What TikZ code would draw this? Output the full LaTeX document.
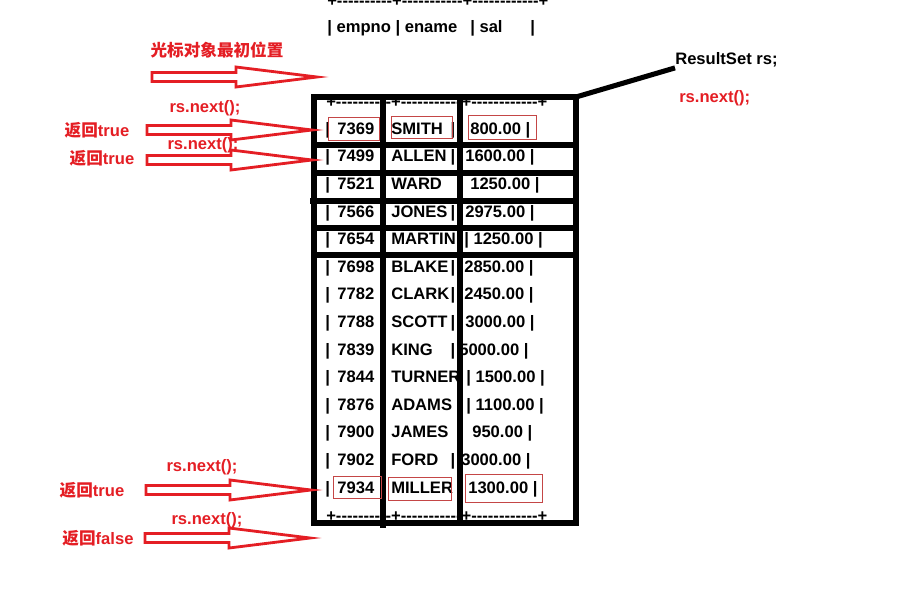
\documentclass[tikz,border=0pt]{standalone}
\usepackage{fontspec}
\setmainfont{Liberation Sans}
\newfontfamily\cjk{Noto Sans CJK SC}
\usetikzlibrary{calc}
\definecolor{markred}{RGB}{228,30,36}
\definecolor{boxred}{RGB}{196,70,70}
\newcommand{\tabfont}{\fontsize{11.8}{14}\selectfont\bfseries}
\newcommand{\dashrun}[1]{\foreach \k in {1,...,#1}{-}}
\newcommand{\hollowarrow}[1]{%
  \draw[hollow] (#1) ++(0,-4.5) -- ++(84,0) -- ++(0,-5.5) -- ++(81,10)
    -- ++(-81,10) -- ++(0,-5.5) -- ++(-84,0) -- cycle;}

\begin{document}
\begin{tikzpicture}[
    x=0.025cm, y=-0.025cm,
    cell/.style={anchor=west,inner sep=0pt,font=\tabfont,
      text height=1.6ex,text depth=0.45ex},
    note/.style={inner sep=0pt,text=markred,font=\tabfont},
    hollow/.style={draw=markred,line width=2pt},
    thickrule/.style={line width=3.6pt},
    markbox/.style={draw=boxred,line width=0.6pt}
  ]
  \useasboundingbox (0,0) rectangle (921,598);

  % header printed above the cursor
  \node[cell] (headrule) at (327,2) {+\dashrun{10}+\dashrun{11}+\dashrun{12}+};
  \node[cell] (headcols) at (327,28) {| empno | ename \enspace| sal \hspace{1.4em}|};

  % result rows
  \node[cell] (toprule) at (326,103) {+\dashrun{10}+\dashrun{11}+\dashrun{12}+};
  \foreach \id/\nm/\sal/\sx [count=\i] in {
      7369/SMITH\hfill|/800.00 |/470,
      7499/ALLEN\hfill|/1600.00 |/465,
      7521/WARD/1250.00 |/470,
      7566/JONES\hfill|/2975.00 |/465,
      7654/MARTIN/| 1250.00 |/464,
      7698/BLAKE\hfill|/2850.00 |/464,
      7782/CLARK\hfill|/2450.00 |/464,
      7788/SCOTT\hfill|/3000.00 |/465,
      7839/KING\hfill|\hspace{4pt}/5000.00 |/459,
      7844/TURNER/| 1500.00 |/466,
      7876/ADAMS/| 1100.00 |/466,
      7900/JAMES/950.00 |/472,
      7902/FORD\hfill|\hspace{2pt}/3000.00 |/461,
      7934/MILLER/1300.00 |/468} {
    \pgfmathsetmacro\ry{130+(\i-1)*27.6}
    \node[cell] (id\i) at (325,\ry) {|\hspace{0.45em}\id};
    \node[cell,text width=1.6cm] (nm\i) at (391,\ry) {\nm};
    \node[cell] (sal\i) at (\sx,\ry) {\sal};
  }
  \node[cell] (botrule) at (326,517) {+\dashrun{10}+\dashrun{11}+\dashrun{12}+};

  % thick frame drawn over the text
  \coordinate (boxnw) at (314,97);
  \coordinate (boxne) at (576,97);
  \coordinate (boxse) at (576,523);
  \draw[thickrule] (boxnw) rectangle (boxse);
  \draw[thickrule] (383,97) -- (383,528);
  \draw[thickrule] (460,97) -- (460,523);
  \foreach \hy in {145,173,228,255}
    \draw[thickrule] (314,\hy) -- (576,\hy);
  \draw[thickrule] (310,201) -- (579,201);

  % marked cells
  \draw[markbox] (328,117) rectangle (379,140);
  \draw[markbox] (391,116) rectangle (452,138);
  \draw[markbox] (468,115) rectangle (536,139);
  \draw[markbox] (333,476) rectangle (381,498);
  \draw[markbox] (388,477) rectangle (451,500);
  \draw[markbox] (465,474) rectangle (542,502);

  \node[cell] (rsvar) at (675,60) {ResultSet rs;};
  \node[note,anchor=west] (rsnext) at (679,98) {rs.next();};
  \draw[thickrule] (boxne) -- (rsvar.south west);

  % cursor moves
  \node[note] (initlbl) at (217,50) {\cjk 光标对象最初位置};
  \coordinate (a0) at (152,77);
  \hollowarrow{a0}

  \node[note] (call1) at (205,108) {rs.next();};
  \node[note] (ret1) at (97,130) {{\cjk 返回}true};
  \coordinate (a1) at (147,130);
  \hollowarrow{a1}

  \node[note] (call2) at (203,145) {rs.next();};
  \node[note] (ret2) at (102,158) {{\cjk 返回}true};
  \coordinate (a2) at (147,160);
  \hollowarrow{a2}

  \node[note] (call3) at (202,467) {rs.next();};
  \node[note] (ret3) at (92,490) {{\cjk 返回}true};
  \coordinate (a3) at (146,490);
  \hollowarrow{a3}

  \node[note] (call4) at (207,520) {rs.next();};
  \node[note] (ret4) at (98,538) {{\cjk 返回}false};
  \coordinate (a4) at (145,538);
  \hollowarrow{a4}
\end{tikzpicture}
\end{document}
